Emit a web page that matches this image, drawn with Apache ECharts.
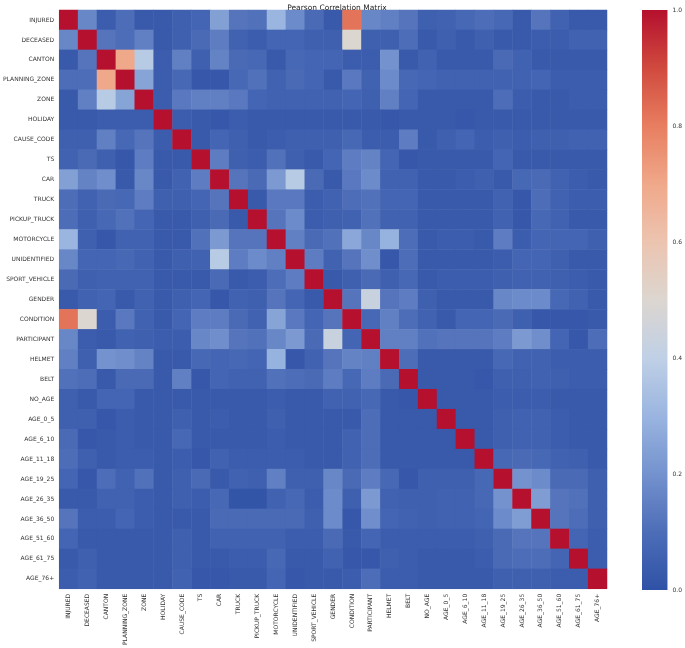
<!DOCTYPE html>
<html><head><meta charset="utf-8">
<script src="https://cdn.jsdelivr.net/npm/echarts@6/dist/echarts.min.js"></script>
<style>html,body{margin:0;padding:0;background:#fff}#c{width:685px;height:648px}</style>
</head><body><div id="c"></div><script>
const labels = ['INJURED','DECEASED','CANTON','PLANNING_ZONE','ZONE','HOLIDAY','CAUSE_CODE','TS','CAR','TRUCK','PICKUP_TRUCK','MOTORCYCLE','UNIDENTIFIED','SPORT_VEHICLE','GENDER','CONDITION','PARTICIPANT','HELMET','BELT','NO_AGE','AGE_0_5','AGE_6_10','AGE_11_18','AGE_19_25','AGE_26_35','AGE_36_50','AGE_51_60','AGE_61_75','AGE_76+'];

const rowInjured      = [1,.17,.04,.10,.03,.03,.05,.07,.24,.12,.11,.30,.18,.09,.03,.82,.17,.15,.12,.05,.06,.08,.10,.08,.03,.12,.06,.03,.03];
const rowDeceased     = [.17,1,.12,.10,.15,.03,.05,.09,.14,.06,.04,.07,.07,.05,.05,.50,.05,.05,.10,.03,.05,.03,.05,.03,.03,.04,.04,.06,.06];
const rowCanton       = [.03,.12,1,.70,.38,.04,.15,.05,.16,.09,.08,.03,.08,.07,.07,.04,.04,.20,.03,.06,.03,.03,.03,.09,.06,.03,.03,.03,.03];
const rowPlanningZone = [.10,.10,.70,1,.25,.04,.08,.02,.02,.08,.11,.06,.09,.07,.03,.13,.06,.18,.08,.07,.06,.06,.06,.06,.06,.07,.04,.04,.04];
const rowZone         = [.03,.15,.38,.25,1,.04,.13,.15,.15,.13,.07,.06,.06,.06,.06,.07,.05,.15,.07,.03,.03,.03,.03,.10,.04,.03,.03,.04,.04];
const rowHoliday      = [.03,.03,.04,.04,.04,1,.04,.03,.02,.04,.03,.03,.03,.03,.03,.03,.03,.02,.03,.03,.03,.02,.03,.03,.03,.03,.03,.03,.03];
const rowCauseCode    = [.05,.05,.15,.08,.12,.04,1,.03,.07,.05,.03,.04,.05,.05,.05,.08,.04,.04,.14,.03,.05,.07,.04,.05,.04,.05,.05,.06,.06];
const rowTs           = [.06,.09,.05,.02,.14,.03,.03,1,.14,.05,.04,.11,.05,.03,.07,.14,.16,.07,.02,.03,.03,.03,.03,.07,.03,.03,.03,.03,.03];
const rowCar          = [.24,.16,.19,.03,.17,.03,.06,.14,1,.12,.09,.22,.38,.09,.03,.13,.18,.06,.06,.03,.03,.04,.05,.03,.08,.09,.06,.04,.03];
const rowTruck        = [.10,.06,.09,.08,.14,.05,.05,.07,.12,1,.03,.13,.13,.04,.06,.10,.11,.07,.07,.03,.03,.03,.03,.06,.02,.10,.06,.04,.04];
const rowPickupTruck  = [.10,.05,.08,.11,.07,.03,.03,.05,.09,.03,1,.12,.18,.04,.05,.06,.11,.06,.06,.03,.03,.03,.03,.06,.02,.08,.06,.03,.03];
const rowMotorcycle   = [.30,.05,.02,.06,.06,.03,.03,.11,.22,.12,.12,1,.15,.09,.11,.26,.17,.29,.10,.03,.04,.04,.03,.14,.04,.07,.07,.07,.05];
const rowUnidentified = [.17,.07,.07,.08,.06,.03,.05,.06,.38,.14,.18,.15,1,.14,.06,.12,.19,.02,.10,.03,.03,.03,.03,.04,.07,.07,.05,.03,.03];
const rowSportVehicle = [.09,.05,.06,.06,.06,.03,.03,.03,.09,.03,.04,.10,.14,1,.03,.05,.09,.05,.08,.03,.04,.04,.04,.05,.06,.06,.05,.04,.03];
const rowGender       = [.03,.06,.07,.03,.06,.03,.05,.07,.02,.06,.05,.12,.07,.03,1,.12,.43,.12,.14,.05,.03,.03,.03,.17,.18,.18,.08,.06,.03];
const rowCondition    = [.82,.50,.04,.13,.06,.03,.07,.14,.14,.09,.06,.25,.13,.07,.12,1,.08,.15,.10,.06,.03,.07,.07,.09,.05,.02,.02,.02,.03];
const rowParticipant  = [.17,.04,.03,.06,.05,.04,.04,.17,.19,.12,.11,.17,.22,.09,.43,.07,1,.15,.15,.11,.12,.12,.12,.14,.22,.19,.07,.02,.10];
const rowHelmet       = [.15,.05,.20,.19,.16,.03,.03,.08,.07,.08,.07,.29,.02,.06,.12,.16,.15,1,.10,.03,.03,.03,.03,.08,.06,.06,.04,.04,.04];
const rowBelt         = [.11,.10,.03,.09,.09,.03,.15,.02,.07,.06,.06,.11,.10,.09,.14,.08,.14,.09,1,.03,.03,.03,.02,.05,.05,.06,.05,.04,.04];
const rowNoAge        = [.05,.03,.07,.07,.03,.03,.03,.03,.03,.03,.03,.04,.03,.03,.06,.06,.08,.03,.02,1,.03,.03,.03,.04,.04,.04,.03,.03,.03];
const rowAge0_5       = [.05,.05,.02,.04,.03,.03,.05,.03,.04,.03,.03,.05,.03,.03,.03,.03,.10,.03,.03,.03,1,.03,.03,.05,.06,.06,.04,.03,.03];
const rowAge6_10      = [.09,.02,.03,.04,.03,.03,.08,.03,.03,.03,.03,.04,.03,.03,.03,.06,.10,.03,.03,.03,.03,1,.03,.05,.06,.06,.04,.03,.03];
const rowAge11_18     = [.10,.05,.03,.04,.04,.03,.04,.02,.06,.04,.04,.04,.04,.03,.03,.06,.10,.03,.03,.03,.03,.03,1,.08,.09,.08,.06,.05,.03];
const rowAge19_25     = [.07,.02,.10,.06,.11,.03,.05,.09,.03,.06,.05,.15,.05,.05,.17,.09,.14,.08,.02,.05,.05,.05,.08,1,.20,.18,.09,.09,.05];
const rowAge26_35     = [.03,.03,.06,.06,.04,.03,.05,.04,.08,.01,.01,.06,.08,.04,.18,.05,.22,.06,.05,.05,.06,.06,.08,.20,1,.23,.12,.11,.05];
const rowAge36_50     = [.12,.04,.04,.07,.04,.03,.03,.03,.09,.09,.09,.09,.09,.05,.18,.02,.19,.07,.06,.05,.06,.06,.07,.18,.23,1,.12,.10,.05];
const rowAge51_60     = [.07,.03,.03,.03,.03,.03,.05,.03,.06,.06,.06,.06,.04,.04,.09,.03,.07,.04,.04,.04,.04,.04,.05,.09,.12,.12,1,.07,.04];
const rowAge61_75     = [.03,.05,.03,.03,.03,.03,.05,.03,.03,.04,.04,.08,.03,.03,.06,.02,.02,.05,.04,.03,.03,.03,.04,.09,.10,.10,.07,1,.04];
const rowAge76        = [.04,.06,.03,.03,.03,.03,.06,.02,.02,.03,.03,.07,.02,.03,.03,.04,.10,.04,.04,.03,.03,.03,.03,.05,.05,.05,.04,.04,1];

const colorbarTicks = [0, 0.2, 0.4, 0.6, 0.8, 1.0];

const matrix = [rowInjured,rowDeceased,rowCanton,rowPlanningZone,rowZone,rowHoliday,rowCauseCode,rowTs,rowCar,rowTruck,rowPickupTruck,rowMotorcycle,rowUnidentified,rowSportVehicle,rowGender,rowCondition,rowParticipant,rowHelmet,rowBelt,rowNoAge,rowAge0_5,rowAge6_10,rowAge11_18,rowAge19_25,rowAge26_35,rowAge36_50,rowAge51_60,rowAge61_75,rowAge76];

// colour ramp (coolwarm look as rendered), evenly spaced 0..1
const ramp = ['#3052a6','#4d6db8','#7492ce','#9ab5e0','#c0d0e6','#dcd6d0','#ecc4b0','#f0a88a','#e87e60','#d04a3e','#b5102e'];

const heatData = [];
matrix.forEach((row, yi) => row.forEach((v, xi) => heatData.push([xi, yi, v])));

const chart = echarts.init(document.getElementById('c'), null, {renderer: 'canvas'});
const font = 'DejaVu Sans';
const cbMin = colorbarTicks[0], cbMax = colorbarTicks[colorbarTicks.length - 1];
chart.setOption({
  animation: false,
  backgroundColor: '#ffffff',
  textStyle: {fontFamily: font},
  title: {
    text: 'Pearson Correlation Matrix', left: 332, textAlign: 'center', top: -1,
    textStyle: {fontSize: 7.5, fontWeight: 'normal', color: '#262626', fontFamily: font}
  },
  grid: [
    {left: 57, top: 10, width: 550, height: 580},
    {left: 642, top: 10, width: 29, height: 580}
  ],
  xAxis: [
    {type: 'category', gridIndex: 0, data: labels, axisLine: {show: false}, axisTick: {show: false}, splitLine: {show: false},
     axisLabel: {interval: 0, rotate: 90, fontSize: 6, color: '#333', margin: 5, fontFamily: font}},
    {type: 'category', gridIndex: 1, data: ['cb'], show: false}
  ],
  yAxis: [
    {type: 'category', gridIndex: 0, data: labels, inverse: true, axisLine: {show: false}, axisTick: {show: false}, splitLine: {show: false},
     axisLabel: {interval: 0, fontSize: 6, color: '#333', margin: 5, fontFamily: font}},
    {type: 'value', gridIndex: 1, min: cbMin, max: cbMax, interval: 0.2, position: 'right',
     axisLine: {show: false}, axisTick: {show: false}, splitLine: {show: false},
     axisLabel: {fontSize: 6, color: '#333', margin: 5, fontFamily: font, formatter: v => v.toFixed(1)}}
  ],
  visualMap: {
    show: false, type: 'continuous', min: cbMin, max: cbMax, seriesIndex: 0, dimension: 2,
    inRange: {color: ramp}
  },
  series: [
    {type: 'heatmap', xAxisIndex: 0, yAxisIndex: 0, data: heatData, itemStyle: {borderWidth: 0}, emphasis: {disabled: true}},
    {type: 'bar', xAxisIndex: 1, yAxisIndex: 1, data: [cbMax], barWidth: '100%', silent: true,
     itemStyle: {color: new echarts.graphic.LinearGradient(0, 1, 0, 0,
       ramp.map((c, i) => ({offset: i / (ramp.length - 1), color: c})))}}
  ]
});
</script></body></html>
